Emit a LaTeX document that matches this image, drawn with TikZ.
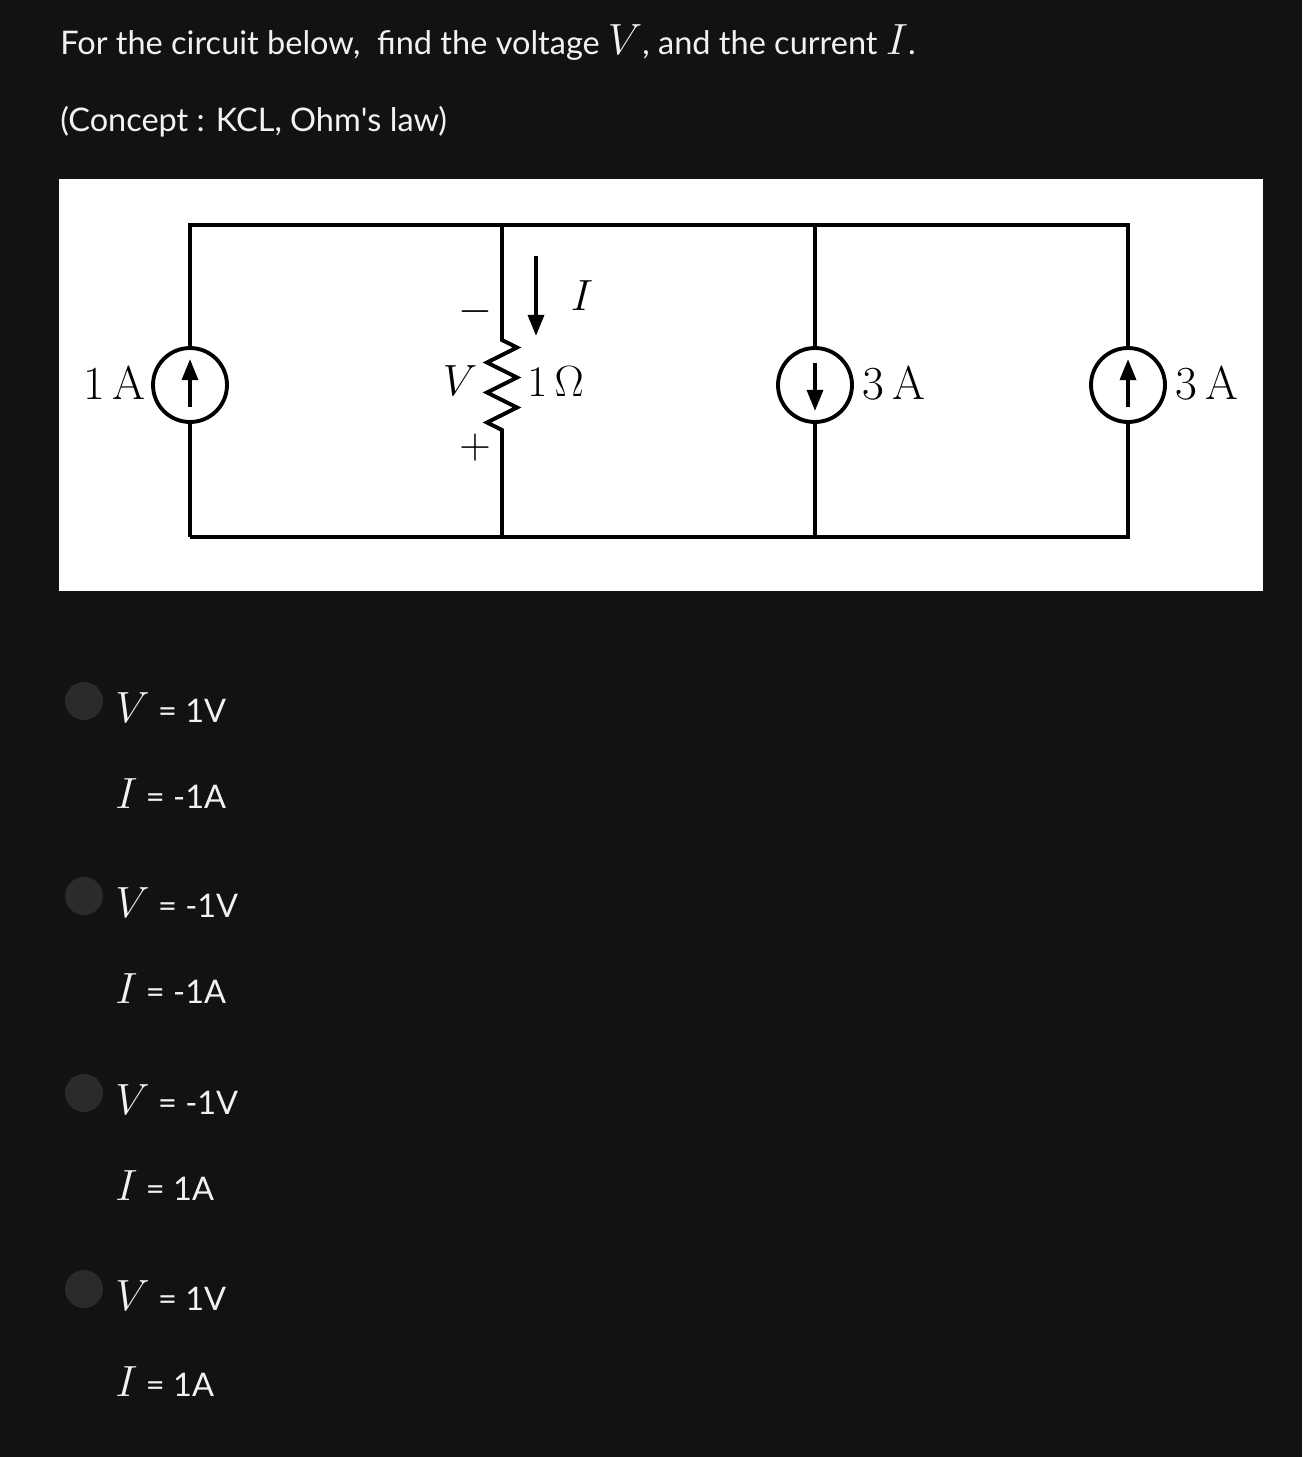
\documentclass[tikz,border=0pt]{standalone}
\usepackage{fontspec}
\setmainfont{Lato}
\newfontfamily\lmr{Latin Modern Roman}
\usetikzlibrary{arrows.meta,calc}
\definecolor{bg}{HTML}{121212}
\definecolor{txt}{HTML}{F2F2F2}
\definecolor{radio}{HTML}{2B2B2B}
\begin{document}
\begin{tikzpicture}[x=0.02cm,y=-0.02cm,
  wire/.style={line width=2.2pt,black},
  src/.style={circle,draw=black,line width=2.2pt,minimum size=1.48cm,inner sep=0pt,fill=white},
  lbl/.style={text=txt,anchor=base west,inner sep=0pt,font=\fontsize{18.5}{21}\selectfont},
  cl/.style={text=black,inner sep=0pt,font=\fontsize{27}{29}\selectfont},
  arr/.style={line width=2.2pt,-{Triangle[length=12pt,width=9pt]}},
  opt/.style={circle,fill=radio,draw=bg,minimum size=0.78cm,inner sep=0pt}]
\fill[bg] (0,0) rectangle (1302,1457);
\useasboundingbox (0,0) rectangle (1302,1457);
\node[lbl] (t1) at (60,54) {For the circuit below,\ \ find the voltage {\fontsize{33}{35}\selectfont$V$}, and the current {\fontsize{33}{35}\selectfont$I$}.};
\node[lbl] (t2) at (60,131) {(Concept : KCL, Ohm\textquotesingle s law)};
\fill[white] (59,179) rectangle (1263,591);
\coordinate (a1) at (190,225); \coordinate (a2) at (502,225); \coordinate (a3) at (815,225); \coordinate (a4) at (1128,225);
\coordinate (b1) at (190,537); \coordinate (b2) at (502,537); \coordinate (b3) at (815,537); \coordinate (b4) at (1128,537);
\coordinate (r1) at (502,340); \coordinate (r2) at (502,430);
\draw[wire] (b1) -- (a1) -- (a4) -- (b4) -- (b1);
\draw[wire] (a3) -- (b3);
\draw[wire,line join=miter] (a2) -- (r1) -- ++(15,7.5) -- ++(-30,15) -- ++(30,15) -- ++(-30,15) -- ++(30,15) -- ++(-30,15) -- (r2) -- (b2);
\node[src] (s1) at (190,385) {};
\node[src] (s2) at (815,385) {};
\node[src] (s3) at (1128,385) {};
\foreach \s/\d in {s1/-1,s2/1,s3/-1}{
  \draw[arr] ($(\s.center)+(0,-\d*22)$) -- ($(\s.center)+(0,\d*26)$);
}
\node[cl,anchor=east] (l1) at (146,383) {\lmr 1\,A};
\node[cl,anchor=west] (l2) at (862,383) {\lmr 3\,A};
\node[cl,anchor=west] (l3) at (1175,383) {\lmr 3\,A};
\node[cl] (lv) at (460,381) {$V$};
\node[cl,anchor=west] (lr) at (527,382) {$1\,\Omega$};
\node[cl] (lm) at (475,312) {$-$};
\node[cl] (lp) at (475,448) {$+$};
\coordinate (i1) at (536,256); \coordinate (i2) at (536,336);
\draw[arr] (i1) -- (i2);
\node[cl] (li) at (582,296) {$I$};
\foreach \y/\v/\i [count=\k] in {701/1V/-1A,896/-1V/-1A,1093/-1V/1A,1289/1V/1A}{
  \node[opt] (o\k) at (84,\y) {};
  \node[lbl] (ov\k) at (115,\y+21) {{\fontsize{32}{34}\selectfont$V$} = \v};
  \node[lbl] (oi\k) at (115,\y+107) {{\fontsize{32}{34}\selectfont$I$} = \i};
}
\end{tikzpicture}
\end{document}
